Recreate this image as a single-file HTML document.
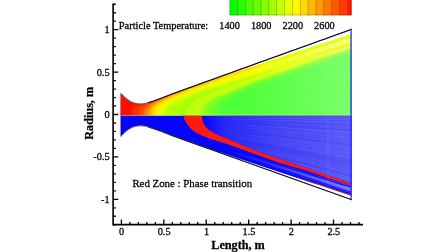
<!DOCTYPE html>
<html><head><meta charset="utf-8"><title>Particle Temperature</title>
<style>html,body{margin:0;padding:0;background:#fff;overflow:hidden;}svg{display:block;}text{font-family:"Liberation Serif","DejaVu Serif",serif;fill:#000;stroke:#000;stroke-width:0.26px;}</style>
</head><body>
<svg width="448" height="252" viewBox="0 0 448 252">
<defs>
<filter id="b2" x="-10%" y="-10%" width="120%" height="120%"><feGaussianBlur stdDeviation="1.6"/></filter>
<filter id="b1" x="-10%" y="-10%" width="120%" height="120%"><feGaussianBlur stdDeviation="0.9"/></filter>
<filter id="b05" x="-10%" y="-10%" width="120%" height="120%"><feGaussianBlur stdDeviation="0.5"/></filter>
<clipPath id="cu"><path d="M120.9,93.6 L121.3,94.0 L121.9,94.6 L122.5,95.2 L123.2,95.9 L124.0,96.7 L124.8,97.4 L125.5,98.1 L126.2,98.7 L126.8,99.2 L127.5,99.7 L128.1,100.2 L128.7,100.6 L129.3,101.0 L130.0,101.4 L130.6,101.8 L131.2,102.1 L131.8,102.4 L132.5,102.7 L133.1,102.9 L133.7,103.1 L134.4,103.3 L135.0,103.5 L135.7,103.7 L136.3,103.8 L136.9,103.9 L137.6,104.0 L138.2,104.1 L138.9,104.1 L139.5,104.2 L140.1,104.2 L140.8,104.2 L141.4,104.2 L142.0,104.1 L142.7,104.1 L143.3,104.0 L143.9,103.9 L144.6,103.9 L145.2,103.8 L145.9,103.6 L146.5,103.5 L147.1,103.3 L147.8,103.2 L148.4,103.0 L149.1,102.8 L149.7,102.5 L150.3,102.3 L151.0,102.1 L151.6,101.9 L152.2,101.7 L152.9,101.5 L153.5,101.3 L154.1,101.1 L154.7,100.9 L155.3,100.6 L156.0,100.4 L156.6,100.2 L157.2,100.0 L157.9,99.7 L158.5,99.5 L159.1,99.3 L159.8,99.0 L160.4,98.8 L161.1,98.5 L161.7,98.3 L162.3,98.1 L163.0,97.8 L163.6,97.6 L164.2,97.4 L164.9,97.1 L165.5,96.9 L166.2,96.6 L166.8,96.4 L167.5,96.1 L168.2,95.8 L169.0,95.5 L169.7,95.2 L170.4,94.9 L171.1,94.6 L171.6,94.4 L172.0,94.2 L175.0,93.2 L181.0,91.0 L187.0,88.9 L193.0,86.7 L199.0,84.5 L205.0,82.4 L211.0,80.2 L217.0,78.1 L223.0,76.1 L229.0,74.2 L235.0,72.2 L241.0,70.2 L247.0,68.3 L253.0,66.3 L259.0,64.3 L265.0,62.4 L271.0,60.4 L277.0,58.4 L283.0,56.4 L289.0,54.5 L295.0,52.5 L301.0,50.5 L307.0,48.6 L313.0,46.6 L319.0,44.6 L325.0,42.7 L331.0,40.7 L337.0,38.7 L343.0,36.7 L349.0,34.8 L351.6,33.9 L351.6,115.5 L120.8,115.5 Z"/></clipPath>
<clipPath id="cl"><path d="M120.9,136.2 L121.3,135.7 L121.9,135.2 L122.5,134.5 L123.2,133.8 L124.0,133.1 L124.8,132.3 L125.5,131.6 L126.2,131.0 L126.8,130.5 L127.5,130.0 L128.1,129.6 L128.7,129.1 L129.3,128.7 L130.0,128.3 L130.6,128.0 L131.2,127.6 L131.8,127.3 L132.5,127.0 L133.1,126.8 L133.7,126.6 L134.4,126.4 L135.0,126.2 L135.7,126.0 L136.3,125.9 L136.9,125.8 L137.6,125.7 L138.2,125.6 L138.9,125.6 L139.5,125.5 L140.1,125.5 L140.8,125.5 L141.4,125.5 L142.0,125.6 L142.7,125.6 L143.3,125.7 L143.9,125.7 L144.6,125.8 L145.2,125.9 L145.9,126.0 L146.5,126.2 L147.1,126.3 L147.8,126.5 L148.4,126.7 L149.1,126.9 L149.7,127.1 L150.3,127.3 L151.0,127.5 L151.6,127.8 L152.2,128.0 L152.9,128.2 L153.5,128.4 L154.1,128.6 L154.7,128.8 L155.3,129.0 L156.0,129.2 L156.6,129.4 L157.2,129.7 L157.9,129.9 L158.5,130.1 L159.1,130.4 L159.8,130.6 L160.4,130.8 L161.1,131.1 L161.7,131.3 L162.3,131.6 L163.0,131.8 L163.6,132.0 L164.2,132.2 L164.9,132.5 L165.5,132.7 L166.2,133.0 L166.8,133.2 L167.5,133.5 L168.2,133.8 L169.0,134.1 L169.7,134.4 L170.4,134.7 L171.1,134.9 L171.6,135.2 L172.0,135.3 L175.0,136.4 L181.0,138.5 L187.0,140.7 L193.0,142.8 L199.0,145.0 L205.0,147.1 L211.0,149.2 L217.0,151.3 L223.0,153.3 L229.0,155.3 L235.0,157.3 L241.0,159.3 L247.0,161.3 L253.0,163.3 L259.0,165.3 L265.0,167.2 L271.0,169.2 L277.0,171.2 L283.0,173.2 L289.0,175.2 L295.0,177.2 L301.0,179.2 L307.0,181.2 L313.0,183.2 L319.0,185.1 L325.0,187.1 L331.0,189.1 L337.0,191.1 L343.0,193.1 L349.0,195.1 L351.6,196.0 L351.6,115.5 L120.8,115.5 Z"/></clipPath>
<linearGradient id="gl" gradientUnits="userSpaceOnUse" x1="203" y1="0" x2="351" y2="0"><stop offset="0" stop-color="#3434f0" stop-opacity="0"/><stop offset="0.15" stop-color="#3232f2" stop-opacity="0.8"/><stop offset="0.5" stop-color="#4040f4" stop-opacity="1"/><stop offset="1" stop-color="#5858fa" stop-opacity="1"/></linearGradient>
<linearGradient id="gs" gradientUnits="userSpaceOnUse" x1="225" y1="0" x2="351" y2="0"><stop offset="0" stop-color="#fff" stop-opacity="0"/><stop offset="1" stop-color="#fff" stop-opacity="1"/></linearGradient>
<linearGradient id="gs2" gradientUnits="userSpaceOnUse" x1="255" y1="0" x2="330" y2="0"><stop offset="0" stop-color="#ffffd0" stop-opacity="0"/><stop offset="1" stop-color="#ffffd0" stop-opacity="1"/></linearGradient>
<linearGradient id="gw" gradientUnits="userSpaceOnUse" x1="250" y1="0" x2="351" y2="0"><stop offset="0" stop-color="#fff" stop-opacity="0"/><stop offset="1" stop-color="#fff" stop-opacity="0.24"/></linearGradient>
<linearGradient id="gr" gradientUnits="userSpaceOnUse" x1="285" y1="0" x2="330" y2="0"><stop offset="0" stop-color="#ff3020" stop-opacity="0"/><stop offset="1" stop-color="#ff3020" stop-opacity="0.75"/></linearGradient>
<linearGradient id="gb" gradientUnits="userSpaceOnUse" x1="205" y1="0" x2="290" y2="0"><stop offset="0" stop-color="rgb(190,255,12)"/><stop offset="1" stop-color="rgb(248,255,0)"/></linearGradient>
</defs>
<rect width="448" height="252" fill="#fff"/>
<rect x="229.60" y="0" width="8.15" height="15.3" fill="rgb(6, 255, 0)"/>
<rect x="237.45" y="0" width="8.15" height="15.3" fill="rgb(38, 255, 0)"/>
<rect x="245.30" y="0" width="8.15" height="15.3" fill="rgb(70, 255, 0)"/>
<rect x="253.15" y="0" width="8.15" height="15.3" fill="rgb(102, 255, 0)"/>
<rect x="261.00" y="0" width="8.15" height="15.3" fill="rgb(133, 255, 0)"/>
<rect x="268.85" y="0" width="8.15" height="15.3" fill="rgb(165, 255, 0)"/>
<rect x="276.70" y="0" width="8.15" height="15.3" fill="rgb(197, 255, 0)"/>
<rect x="284.55" y="0" width="8.15" height="15.3" fill="rgb(229, 255, 0)"/>
<rect x="292.40" y="0" width="8.15" height="15.3" fill="rgb(255, 248, 0)"/>
<rect x="300.25" y="0" width="8.15" height="15.3" fill="rgb(255, 216, 0)"/>
<rect x="308.10" y="0" width="8.15" height="15.3" fill="rgb(255, 184, 0)"/>
<rect x="315.95" y="0" width="8.15" height="15.3" fill="rgb(255, 153, 0)"/>
<rect x="323.80" y="0" width="8.15" height="15.3" fill="rgb(255, 121, 0)"/>
<rect x="331.65" y="0" width="8.15" height="15.3" fill="rgb(255, 89, 0)"/>
<rect x="339.50" y="0" width="8.15" height="15.3" fill="rgb(255, 57, 0)"/>
<rect x="347.35" y="0" width="4.35" height="15.3" fill="rgb(255, 25, 0)"/>
<rect x="237.15" y="0" width="0.6" height="15.3" fill="#000" fill-opacity="0.35"/>
<rect x="245.00" y="0" width="0.6" height="15.3" fill="#000" fill-opacity="0.35"/>
<rect x="252.85" y="0" width="0.6" height="15.3" fill="#000" fill-opacity="0.35"/>
<rect x="260.70" y="0" width="0.6" height="15.3" fill="#000" fill-opacity="0.35"/>
<rect x="268.55" y="0" width="0.6" height="15.3" fill="#000" fill-opacity="0.35"/>
<rect x="276.40" y="0" width="0.6" height="15.3" fill="#000" fill-opacity="0.35"/>
<rect x="284.25" y="0" width="0.6" height="15.3" fill="#000" fill-opacity="0.35"/>
<rect x="292.10" y="0" width="0.6" height="15.3" fill="#000" fill-opacity="0.35"/>
<rect x="299.95" y="0" width="0.6" height="15.3" fill="#000" fill-opacity="0.35"/>
<rect x="307.80" y="0" width="0.6" height="15.3" fill="#000" fill-opacity="0.35"/>
<rect x="315.65" y="0" width="0.6" height="15.3" fill="#000" fill-opacity="0.35"/>
<rect x="323.50" y="0" width="0.6" height="15.3" fill="#000" fill-opacity="0.35"/>
<rect x="331.35" y="0" width="0.6" height="15.3" fill="#000" fill-opacity="0.35"/>
<rect x="339.20" y="0" width="0.6" height="15.3" fill="#000" fill-opacity="0.35"/>
<rect x="347.05" y="0" width="0.6" height="15.3" fill="#000" fill-opacity="0.35"/>
<path d="M229.9,0 V15.0 H351.09999999999997 V0" fill="none" stroke="#000" stroke-opacity="0.35" stroke-width="0.6"/>
<g clip-path="url(#cu)">
<g filter="url(#b2)">
<rect x="100" y="10" width="280" height="125" fill="#ff0800"/>
<path d="M131.0,115.5 L131.3,114.1 L132.0,111.1 L132.5,108.9 L133.0,108.0 L133.8,106.4 L134.0,106.1 L134.5,105.9 L135.5,105.5 L136.5,105.0 L137.0,104.8 L137.8,104.8 L139.0,104.7 L140.5,104.5 L142.0,104.2 L144.0,103.7 L146.0,103.1 L148.0,102.3 L148.5,102.1 L151.0,101.2 L154.0,100.2 L157.0,99.1 L163.0,96.7 L169.0,94.3 L175.0,91.8 L181.0,89.5 L187.0,87.2 L193.0,84.9 L199.0,82.5 L205.0,80.2 L211.0,77.9 L217.0,75.5 L223.0,73.1 L229.0,70.8 L235.0,68.4 L241.0,66.0 L247.0,63.7 L253.0,61.3 L259.0,58.9 L265.0,56.4 L271.0,54.0 L277.0,51.6 L283.0,49.2 L289.0,46.7 L295.0,44.3 L301.0,41.9 L307.0,39.4 L313.0,36.9 L319.0,34.5 L325.0,32.0 L331.0,29.5 L337.0,27.0 L343.0,24.5 L349.0,22.0 L355.0,20.8 L356.0,20.8 L356.0,119.5 L131.0,119.5 Z" fill="rgb(255, 45, 0)"/>
<path d="M139.0,115.5 L139.3,114.3 L140.0,111.6 L140.5,109.7 L141.0,109.0 L141.8,107.8 L142.5,106.7 L143.5,106.2 L144.5,105.7 L145.8,104.9 L146.5,104.4 L147.0,104.3 L148.5,103.7 L150.0,103.0 L152.0,102.2 L154.0,101.2 L156.5,100.1 L159.0,98.8 L162.0,97.2 L165.0,96.0 L171.0,93.5 L177.0,91.1 L183.0,88.8 L189.0,86.5 L195.0,84.2 L201.0,81.9 L207.0,79.5 L213.0,77.2 L219.0,74.8 L225.0,72.5 L231.0,70.1 L237.0,67.7 L243.0,65.4 L249.0,63.0 L255.0,60.6 L261.0,58.2 L267.0,55.7 L273.0,53.3 L279.0,50.9 L285.0,48.5 L291.0,46.0 L297.0,43.6 L303.0,41.1 L309.0,38.6 L315.0,36.2 L321.0,33.7 L327.0,31.2 L333.0,28.7 L339.0,26.2 L345.0,23.7 L351.0,21.2 L356.0,20.8 L356.0,119.5 L139.0,119.5 Z" fill="rgb(255, 85, 0)"/>
<path d="M144.5,115.5 L144.8,114.4 L145.5,111.9 L146.0,110.0 L146.5,109.3 L147.3,108.3 L148.0,107.2 L148.5,106.5 L149.0,106.2 L150.0,105.5 L151.3,104.6 L152.5,103.7 L153.0,103.3 L154.0,102.9 L155.5,102.2 L157.5,101.2 L159.5,100.2 L162.0,98.9 L164.5,97.9 L167.5,96.6 L170.5,95.1 L172.0,94.4 L176.5,92.5 L180.0,91.1 L182.5,89.9 L188.5,87.1 L190.0,86.3 L194.5,84.6 L200.5,82.3 L206.5,80.0 L212.5,77.6 L218.5,75.3 L224.5,72.9 L230.5,70.6 L236.5,68.2 L242.5,65.8 L248.5,63.4 L254.5,61.0 L260.5,58.6 L266.5,56.2 L272.5,53.8 L278.5,51.3 L284.5,48.9 L290.5,46.4 L296.5,44.0 L302.5,41.5 L308.5,39.0 L314.5,36.5 L320.5,34.0 L326.5,31.5 L332.5,29.0 L338.5,26.5 L344.5,23.9 L350.5,21.4 L356.0,20.8 L356.0,119.5 L144.5,119.5 Z" fill="rgb(255, 145, 0)"/>
<path d="M149.5,115.5 L149.8,114.3 L150.5,111.4 L151.0,109.3 L151.5,108.6 L152.3,107.5 L153.0,106.4 L153.5,105.6 L154.0,105.3 L155.0,104.7 L156.3,103.8 L157.5,103.0 L158.0,102.6 L159.0,102.1 L160.5,101.4 L162.5,100.4 L164.5,99.3 L166.0,98.5 L167.0,98.1 L169.5,96.9 L172.5,95.5 L175.0,94.3 L175.5,94.2 L181.5,91.9 L187.5,89.5 L193.5,87.1 L197.0,85.7 L199.5,84.8 L205.5,82.4 L211.5,80.1 L217.5,77.7 L222.0,76.0 L223.5,75.2 L229.5,72.3 L235.0,69.5 L235.5,69.3 L241.5,66.9 L247.5,64.5 L253.5,62.1 L259.5,59.7 L265.5,57.3 L271.5,54.8 L277.5,52.4 L283.5,49.9 L289.5,47.4 L295.5,44.9 L301.5,42.4 L307.5,39.9 L313.5,37.4 L319.5,34.8 L325.5,32.3 L331.5,29.7 L337.5,27.1 L343.5,24.5 L349.5,21.9 L355.5,20.9 L356.0,20.8 L356.0,119.5 L149.5,119.5 Z" fill="rgb(255, 205, 0)"/>
<path d="M153.5,115.5 L153.8,114.3 L154.5,111.3 L155.0,109.2 L155.5,108.5 L156.3,107.4 L157.0,106.4 L157.5,105.6 L158.0,105.3 L159.0,104.6 L160.3,103.6 L161.5,102.7 L162.0,102.3 L163.0,101.8 L164.5,101.1 L166.5,100.0 L168.0,99.2 L168.5,98.9 L171.0,97.7 L173.5,96.4 L175.0,95.7 L176.5,95.1 L179.5,94.0 L185.5,91.7 L191.5,89.3 L197.0,87.1 L197.5,86.9 L203.5,84.8 L209.5,82.7 L215.5,80.6 L221.5,78.5 L227.5,76.3 L233.5,74.2 L239.5,72.0 L245.5,69.8 L251.5,67.6 L254.0,66.7 L257.5,65.3 L263.5,62.7 L269.5,60.1 L275.5,57.5 L281.5,54.8 L285.0,53.3 L287.5,52.1 L293.5,49.1 L299.5,46.1 L305.0,43.3 L305.5,43.1 L311.5,40.4 L317.5,37.6 L323.5,34.8 L329.5,32.0 L335.5,29.2 L341.5,26.3 L347.5,23.5 L353.5,21.3 L356.0,21.1 L356.0,119.5 L153.5,119.5 Z" fill="rgb(255, 240, 0)"/>
<path d="M157.5,115.5 L157.8,114.2 L158.5,111.2 L159.0,108.9 L159.5,108.2 L160.3,107.1 L161.0,106.1 L161.5,105.4 L162.0,105.1 L163.0,104.4 L164.3,103.4 L165.5,102.5 L166.0,102.1 L167.0,101.7 L168.5,100.9 L170.5,99.9 L172.5,98.9 L175.0,97.6 L177.5,96.7 L180.5,95.6 L183.5,94.4 L189.5,92.0 L195.5,89.6 L197.0,88.9 L201.5,87.4 L207.5,85.4 L213.5,83.4 L219.5,81.4 L225.5,79.4 L231.5,77.3 L237.5,75.3 L243.5,73.2 L249.5,71.1 L254.0,69.5 L255.5,68.9 L261.5,66.3 L267.5,63.7 L273.5,61.0 L279.5,58.3 L285.5,55.5 L290.0,53.4 L291.5,52.6 L297.5,49.4 L303.5,46.1 L309.5,42.7 L315.0,39.6 L315.5,39.3 L321.5,36.5 L327.5,33.6 L333.5,30.7 L339.5,27.7 L345.5,24.7 L351.5,21.7 L356.0,21.1 L356.0,119.5 L157.5,119.5 Z" fill="rgb(240, 255, 0)"/>
<path d="M161.5,115.5 L161.8,114.2 L162.5,111.2 L163.0,109.0 L163.5,108.4 L164.3,107.3 L165.0,106.4 L165.5,105.7 L166.0,105.4 L167.0,104.7 L168.3,103.9 L169.5,103.0 L170.0,102.7 L171.0,102.1 L172.5,101.4 L174.5,100.4 L175.0,100.1 L176.5,99.5 L179.0,98.6 L181.5,97.6 L184.5,96.3 L187.5,95.0 L193.5,92.4 L197.0,90.8 L199.5,90.1 L205.5,88.4 L211.5,86.8 L217.5,85.1 L223.5,83.5 L229.5,81.9 L230.0,81.8 L235.5,80.3 L241.5,78.7 L247.5,77.1 L253.5,75.5 L254.0,75.4 L259.5,73.8 L265.5,72.0 L271.5,70.3 L277.5,68.5 L280.0,67.8 L283.5,66.7 L289.5,65.0 L295.5,63.2 L301.5,61.5 L307.5,59.7 L313.5,57.9 L319.5,56.2 L325.5,54.4 L331.5,52.6 L337.5,50.8 L343.5,49.0 L349.5,47.3 L355.5,46.6 L356.0,46.6 L356.0,119.5 L161.5,119.5 Z" fill="rgb(205, 255, 0)"/>
<path d="M166.0,115.5 L166.3,114.3 L167.0,111.6 L167.5,109.6 L168.0,109.1 L168.8,108.2 L169.5,107.4 L170.0,106.8 L170.5,106.5 L171.5,105.9 L172.8,105.1 L174.0,104.4 L175.0,103.7 L175.5,103.5 L177.0,102.7 L179.0,101.6 L181.0,100.5 L183.5,99.1 L185.0,98.2 L186.0,97.8 L189.0,96.4 L192.0,95.0 L197.0,92.6 L198.0,92.3 L204.0,90.7 L210.0,89.1 L216.0,87.6 L222.0,86.0 L228.0,84.4 L230.0,83.9 L234.0,82.7 L240.0,80.9 L246.0,79.1 L252.0,77.3 L254.0,76.7 L258.0,75.4 L264.0,73.5 L270.0,71.6 L276.0,69.7 L280.0,68.4 L282.0,67.8 L288.0,66.0 L294.0,64.2 L300.0,62.4 L306.0,60.6 L312.0,58.8 L318.0,57.0 L324.0,55.2 L330.0,53.3 L336.0,51.5 L342.0,49.7 L348.0,47.8 L354.0,46.7 L356.0,46.6 L356.0,119.5 L166.0,119.5 Z" fill="rgb(180, 255, 0)"/>
</g>
<g filter="url(#b1)">
<path d="M181.0,119.5 L181.0,115.5 L181.0,115.1 L181.1,114.6 L181.2,113.9 L181.3,113.2 L181.5,112.5 L181.8,111.8 L182.1,111.0 L182.5,110.2 L183.0,109.3 L183.6,108.3 L184.4,107.2 L185.3,105.9 L186.3,104.5 L187.4,103.2 L188.6,102.0 L189.9,100.9 L191.4,99.8 L192.9,98.8 L194.6,97.8 L196.3,96.9 L198.2,96.0 L200.2,95.1 L202.2,94.3 L204.3,93.5 L206.4,92.7 L208.4,92.0 L210.4,91.3 L212.5,90.7 L214.5,90.1 L216.6,89.4 L218.5,88.8 L220.2,88.3 L222.0,87.8 L224.3,87.0 L227.4,86.0 L231.5,84.5 L236.4,82.8 L241.7,80.8 L247.2,78.8 L252.4,76.9 L257.4,75.1 L262.4,73.2 L267.4,71.4 L272.4,69.7 L277.4,68.0 L282.4,66.5 L287.4,65.0 L292.4,63.6 L297.4,62.2 L302.4,60.7 L307.4,59.1 L312.4,57.4 L317.3,55.7 L322.3,54.0 L327.4,52.3 L333.0,50.5 L339.0,48.5 L344.8,46.7 L349.8,45.0 L353.4,43.9 L353.4,119.5 Z" fill="rgb(138,255,8)"/>
<path d="M183.6,119.5 L183.6,115.5 L183.6,115.1 L183.7,114.6 L183.8,113.9 L183.9,113.2 L184.1,112.5 L184.4,111.8 L184.7,111.0 L185.1,110.2 L185.6,109.3 L186.2,108.3 L187.0,107.2 L187.9,105.9 L188.9,104.5 L190.0,103.2 L191.2,102.0 L192.5,100.9 L194.0,99.8 L195.5,98.8 L197.2,97.8 L198.9,96.9 L200.8,96.0 L202.8,95.1 L204.8,94.3 L206.9,93.5 L209.0,92.7 L211.0,92.0 L213.0,91.3 L215.1,90.7 L217.1,90.1 L219.2,89.4 L221.1,88.8 L222.8,88.3 L224.6,87.8 L226.9,87.0 L230.0,86.0 L234.1,84.5 L239.0,82.8 L244.3,80.8 L249.8,78.8 L255.0,76.9 L260.0,75.1 L265.0,73.2 L270.0,71.4 L275.0,69.7 L280.0,68.0 L285.0,66.5 L290.0,65.0 L295.0,63.6 L300.0,62.2 L305.0,60.7 L310.0,59.1 L315.0,57.4 L319.9,55.7 L324.9,54.0 L330.0,52.3 L335.6,50.5 L341.6,48.5 L347.4,46.7 L352.4,45.0 L356.0,43.9 L356.0,119.5 Z" fill="url(#gb)"/>
<path d="M202.0,119.5 L202.0,115.5 L202.0,115.1 L202.1,114.6 L202.1,113.9 L202.2,113.2 L202.3,112.5 L202.4,111.8 L202.5,110.9 L202.7,110.1 L202.9,109.2 L203.3,108.3 L203.8,107.3 L204.3,106.3 L205.0,105.2 L205.7,104.2 L206.5,103.2 L207.4,102.4 L208.3,101.6 L209.3,100.9 L210.4,100.1 L211.6,99.4 L212.9,98.7 L214.3,97.9 L215.8,97.2 L217.4,96.4 L219.2,95.6 L220.9,94.8 L222.6,94.1 L224.5,93.4 L226.9,92.4 L230.0,91.1 L234.1,89.4 L239.0,87.3 L244.3,85.1 L249.8,82.9 L255.0,80.8 L260.0,78.9 L265.0,77.1 L270.0,75.3 L275.0,73.6 L280.0,71.9 L285.0,70.2 L290.0,68.5 L295.0,66.9 L300.0,65.3 L305.0,63.6 L310.0,61.9 L315.0,60.2 L319.9,58.6 L324.9,56.8 L330.0,55.1 L335.6,53.2 L341.6,51.1 L347.4,49.0 L352.4,47.2 L356.0,46.0 L356.0,119.5 Z" fill="rgb(140,255,25)"/>
<path d="M206.0,119.5 L206.0,115.5 L206.0,115.1 L206.1,114.6 L206.1,113.9 L206.2,113.2 L206.3,112.5 L206.4,111.8 L206.5,110.9 L206.7,110.1 L206.9,109.2 L207.3,108.3 L207.8,107.3 L208.3,106.3 L209.0,105.2 L209.7,104.2 L210.5,103.2 L211.4,102.4 L212.3,101.6 L213.3,100.9 L214.4,100.1 L215.6,99.4 L216.9,98.7 L218.3,97.9 L219.8,97.2 L221.4,96.4 L223.2,95.6 L224.9,94.8 L226.6,94.1 L228.5,93.4 L230.9,92.4 L234.0,91.1 L238.1,89.4 L243.0,87.3 L248.3,85.1 L253.8,82.9 L259.0,80.8 L264.0,78.9 L269.0,77.1 L274.0,75.3 L279.0,73.6 L284.0,71.9 L289.0,70.2 L294.0,68.5 L299.0,66.9 L304.0,65.3 L309.0,63.6 L314.0,61.9 L319.0,60.2 L323.9,58.6 L328.9,56.8 L334.0,55.1 L339.6,53.2 L345.6,51.1 L351.4,49.0 L356.4,47.2 L360.0,46.0 L360.0,119.5 Z" fill="rgb(122,255,35)"/>
<path d="M211.0,119.5 L211.0,115.5 L211.0,115.1 L211.1,114.6 L211.1,113.9 L211.2,113.2 L211.3,112.5 L211.4,111.8 L211.5,110.9 L211.7,110.1 L211.9,109.2 L212.3,108.3 L212.8,107.3 L213.3,106.3 L214.0,105.2 L214.7,104.2 L215.5,103.2 L216.4,102.4 L217.3,101.6 L218.3,100.9 L219.4,100.1 L220.6,99.4 L221.9,98.7 L223.3,97.9 L224.8,97.2 L226.4,96.4 L228.2,95.6 L229.9,94.8 L231.6,94.1 L233.5,93.4 L235.9,92.4 L239.0,91.1 L243.1,89.4 L248.0,87.3 L253.3,85.1 L258.8,82.9 L264.0,80.8 L269.0,78.9 L274.0,77.1 L279.0,75.3 L284.0,73.6 L289.0,71.9 L294.0,70.2 L299.0,68.5 L304.0,66.9 L309.0,65.3 L314.0,63.6 L319.0,61.9 L324.0,60.2 L328.9,58.6 L333.9,56.8 L339.0,55.1 L344.6,53.2 L350.6,51.1 L356.4,49.0 L361.4,47.2 L365.0,46.0 L365.0,119.5 Z" fill="rgb(98,255,48)"/>
<path d="M218.0,119.5 L218.0,115.5 L218.0,115.1 L218.1,114.6 L218.1,113.9 L218.2,113.2 L218.3,112.5 L218.4,111.8 L218.5,110.9 L218.7,110.1 L218.9,109.2 L219.3,108.3 L219.8,107.3 L220.3,106.3 L221.0,105.2 L221.7,104.2 L222.5,103.2 L223.4,102.4 L224.3,101.6 L225.3,100.9 L226.4,100.1 L227.6,99.4 L228.9,98.7 L230.3,97.9 L231.8,97.2 L233.4,96.4 L235.2,95.6 L236.9,94.8 L238.6,94.1 L240.5,93.4 L242.9,92.4 L246.0,91.1 L250.1,89.4 L255.0,87.3 L260.3,85.1 L265.8,82.9 L271.0,80.8 L276.0,78.9 L281.0,77.1 L286.0,75.3 L291.0,73.6 L296.0,71.9 L301.0,70.2 L306.0,68.5 L311.0,66.9 L316.0,65.3 L321.0,63.6 L326.0,61.9 L331.0,60.2 L335.9,58.6 L340.9,56.8 L346.0,55.1 L351.6,53.2 L357.6,51.1 L363.4,49.0 L368.4,47.2 L372.0,46.0 L372.0,119.5 Z" fill="rgb(80,255,55)"/>
</g>
<rect x="250" y="20" width="110" height="100" fill="url(#gw)"/>
<g filter="url(#b05)">
<path d="M265.0,61.8 L272.2,59.3 L279.5,56.8 L286.8,54.2 L294.0,51.7 L301.2,49.1 L308.5,46.6 L315.8,44.0 L323.0,41.5 L330.2,38.9 L337.5,36.4 L344.8,33.9 L352.0,31.5 L352.0,36.6 L344.8,38.9 L337.5,41.3 L330.2,43.7 L323.0,46.0 L315.8,48.4 L308.5,50.8 L301.2,53.2 L294.0,55.6 L286.8,58.0 L279.5,60.4 L272.2,62.8 L265.0,65.2 Z" fill="rgb(218,255,0)" fill-opacity="0.8"/>
<path d="M255.0,69.0 L263.1,66.3 L271.2,63.7 L279.2,61.1 L287.3,58.4 L295.4,55.8 L303.5,53.2 L311.6,50.5 L319.7,47.9 L327.7,45.3 L335.8,42.6 L343.9,40.0 L352.0,37.5 L352.0,41.8 L343.9,44.2 L335.8,46.7 L327.7,49.1 L319.7,51.6 L311.6,54.1 L303.5,56.6 L295.4,59.1 L287.3,61.6 L279.2,64.1 L271.2,66.6 L263.1,69.0 L255.0,71.5 Z" fill="url(#gs2)" fill-opacity="0.42"/>
<path d="M255.0,73.8 L263.1,71.5 L271.2,69.1 L279.2,66.8 L287.3,64.4 L295.4,62.1 L303.5,59.7 L311.6,57.3 L319.7,55.0 L327.7,52.6 L335.8,50.3 L343.9,47.9 L352.0,45.7 L352.0,48.1 L343.9,50.3 L335.8,52.5 L327.7,54.8 L319.7,57.1 L311.6,59.4 L303.5,61.6 L295.4,63.9 L287.3,66.2 L279.2,68.5 L271.2,70.7 L263.1,73.0 L255.0,75.3 Z" fill="url(#gs2)" fill-opacity="0.32"/>
<path d="M275.0,60.1 L281.4,57.9 L287.8,55.7 L294.3,53.5 L300.7,51.4 L307.1,49.2 L313.5,47.0 L319.9,44.8 L326.3,42.6 L332.8,40.5 L339.2,38.3 L345.6,36.1 L352.0,34.0 L352.0,35.3 L345.6,37.3 L339.2,39.5 L332.8,41.6 L326.3,43.8 L319.9,45.9 L313.5,48.1 L307.1,50.2 L300.7,52.4 L294.3,54.5 L287.8,56.7 L281.4,58.8 L275.0,61.0 Z" fill="url(#gs2)" fill-opacity="0.25"/>
</g>
<path d="M246.6,112.1 L255.4,111.9 L264.2,111.7 L273.0,111.5 L281.8,111.3 L290.5,111.0 L299.3,110.8 L308.1,110.6 L316.9,110.4 L325.7,110.2 L334.4,110.0 L343.2,109.7 L352.0,109.5 L352.0,110.3 L343.2,110.5 L334.4,110.7 L325.7,110.9 L316.9,111.1 L308.1,111.3 L299.3,111.5 L290.5,111.6 L281.8,111.8 L273.0,112.0 L264.2,112.2 L255.4,112.4 L246.6,112.6 Z" fill="#fff" fill-opacity="0.11"/><path d="M270.9,109.3 L277.6,109.0 L284.4,108.7 L291.1,108.5 L297.9,108.2 L304.7,107.9 L311.4,107.7 L318.2,107.4 L325.0,107.1 L331.7,106.9 L338.5,106.6 L345.2,106.3 L352.0,106.1 L352.0,106.9 L345.2,107.1 L338.5,107.4 L331.7,107.6 L325.0,107.8 L318.2,108.1 L311.4,108.3 L304.7,108.6 L297.9,108.8 L291.1,109.1 L284.4,109.3 L277.6,109.5 L270.9,109.8 Z" fill="#fff" fill-opacity="0.12"/><path d="M237.1,108.9 L246.6,108.4 L256.2,107.9 L265.8,107.4 L275.4,106.9 L285.0,106.4 L294.5,105.9 L304.1,105.4 L313.7,104.9 L323.3,104.3 L332.8,103.8 L342.4,103.3 L352.0,102.8 L352.0,103.4 L342.4,103.9 L332.8,104.4 L323.3,104.9 L313.7,105.3 L304.1,105.8 L294.5,106.3 L285.0,106.8 L275.4,107.3 L265.8,107.8 L256.2,108.2 L246.6,108.7 L237.1,109.2 Z" fill="#fff" fill-opacity="0.07"/><path d="M253.3,105.9 L261.5,105.4 L269.7,104.8 L278.0,104.2 L286.2,103.7 L294.4,103.1 L302.6,102.6 L310.9,102.0 L319.1,101.4 L327.3,100.9 L335.5,100.3 L343.8,99.8 L352.0,99.2 L352.0,100.0 L343.8,100.5 L335.5,101.0 L327.3,101.6 L319.1,102.1 L310.9,102.6 L302.6,103.2 L294.4,103.7 L286.2,104.2 L278.0,104.8 L269.7,105.3 L261.5,105.8 L253.3,106.4 Z" fill="#fff" fill-opacity="0.05"/><path d="M262.1,103.1 L269.5,102.5 L277.0,101.9 L284.5,101.2 L292.0,100.6 L299.5,100.0 L307.0,99.4 L314.5,98.8 L322.0,98.1 L329.5,97.5 L337.0,96.9 L344.5,96.3 L352.0,95.7 L352.0,96.5 L344.5,97.1 L337.0,97.7 L329.5,98.3 L322.0,98.9 L314.5,99.5 L307.0,100.1 L299.5,100.7 L292.0,101.3 L284.5,101.8 L277.0,102.4 L269.5,103.0 L262.1,103.6 Z" fill="#fff" fill-opacity="0.07"/><path d="M257.4,101.4 L265.2,100.6 L273.1,99.9 L281.0,99.1 L288.9,98.3 L296.8,97.6 L304.7,96.8 L312.6,96.1 L320.5,95.3 L328.3,94.5 L336.2,93.8 L344.1,93.0 L352.0,92.3 L352.0,93.1 L344.1,93.8 L336.2,94.5 L328.3,95.3 L320.5,96.0 L312.6,96.7 L304.7,97.5 L296.8,98.2 L288.9,99.0 L281.0,99.7 L273.1,100.4 L265.2,101.2 L257.4,101.9 Z" fill="#fff" fill-opacity="0.05"/><path d="M246.3,100.6 L255.1,99.7 L264.0,98.7 L272.8,97.7 L281.6,96.7 L290.4,95.8 L299.2,94.8 L308.0,93.8 L316.8,92.8 L325.6,91.9 L334.4,90.9 L343.2,89.9 L352.0,89.0 L352.0,89.6 L343.2,90.5 L334.4,91.5 L325.6,92.4 L316.8,93.4 L308.0,94.4 L299.2,95.3 L290.4,96.3 L281.6,97.2 L272.8,98.2 L264.0,99.1 L255.1,100.1 L246.3,101.0 Z" fill="#fff" fill-opacity="0.08"/><path d="M241.3,99.2 L250.5,98.1 L259.7,96.9 L269.0,95.7 L278.2,94.6 L287.4,93.4 L296.6,92.2 L305.9,91.1 L315.1,89.9 L324.3,88.8 L333.5,87.6 L342.8,86.4 L352.0,85.3 L352.0,86.2 L342.8,87.3 L333.5,88.4 L324.3,89.5 L315.1,90.7 L305.9,91.8 L296.6,92.9 L287.4,94.0 L278.2,95.2 L269.0,96.3 L259.7,97.4 L250.5,98.6 L241.3,99.7 Z" fill="#fff" fill-opacity="0.09"/><path d="M247.3,96.6 L256.0,95.3 L264.7,94.1 L273.4,92.9 L282.2,91.7 L290.9,90.5 L299.6,89.2 L308.4,88.0 L317.1,86.8 L325.8,85.6 L334.5,84.3 L343.3,83.1 L352.0,81.9 L352.0,82.7 L343.3,83.9 L334.5,85.1 L325.8,86.3 L317.1,87.5 L308.4,88.7 L299.6,89.9 L290.9,91.0 L282.2,92.2 L273.4,93.4 L264.7,94.6 L256.0,95.8 L247.3,97.0 Z" fill="#fff" fill-opacity="0.11"/><path d="M272.5,90.8 L279.1,89.8 L285.7,88.8 L292.3,87.8 L299.0,86.8 L305.6,85.7 L312.2,84.7 L318.9,83.7 L325.5,82.7 L332.1,81.7 L338.7,80.6 L345.4,79.6 L352.0,78.7 L352.0,79.3 L345.4,80.2 L338.7,81.2 L332.1,82.2 L325.5,83.2 L318.9,84.2 L312.2,85.2 L305.6,86.3 L299.0,87.3 L292.3,88.3 L285.7,89.3 L279.1,90.3 L272.5,91.3 Z" fill="#fff" fill-opacity="0.08"/><path d="M271.1,88.5 L277.9,87.4 L284.6,86.2 L291.3,85.1 L298.1,83.9 L304.8,82.8 L311.6,81.6 L318.3,80.5 L325.0,79.3 L331.8,78.2 L338.5,77.0 L345.3,75.9 L352.0,74.8 L352.0,75.8 L345.3,76.9 L338.5,78.0 L331.8,79.1 L325.0,80.2 L318.3,81.4 L311.6,82.5 L304.8,83.6 L298.1,84.7 L291.3,85.8 L284.6,86.9 L277.9,88.1 L271.1,89.2 Z" fill="#fff" fill-opacity="0.10"/><path d="M238.7,92.2 L248.1,90.5 L257.6,88.7 L267.0,87.0 L276.5,85.3 L285.9,83.5 L295.3,81.8 L304.8,80.1 L314.2,78.3 L323.7,76.6 L333.1,74.8 L342.6,73.1 L352.0,71.4 L352.0,72.4 L342.6,74.0 L333.1,75.7 L323.7,77.4 L314.2,79.1 L304.8,80.8 L295.3,82.5 L285.9,84.2 L276.5,85.9 L267.0,87.6 L257.6,89.3 L248.1,91.0 L238.7,92.7 Z" fill="#fff" fill-opacity="0.08"/><path d="M249.5,88.3 L258.0,86.6 L266.6,84.9 L275.1,83.2 L283.6,81.5 L292.2,79.9 L300.7,78.2 L309.3,76.5 L317.8,74.8 L326.4,73.1 L334.9,71.4 L343.5,69.7 L352.0,68.1 L352.0,69.0 L343.5,70.5 L334.9,72.2 L326.4,73.9 L317.8,75.5 L309.3,77.2 L300.7,78.8 L292.2,80.5 L283.6,82.2 L275.1,83.8 L266.6,85.5 L258.0,87.1 L249.5,88.8 Z" fill="#fff" fill-opacity="0.09"/><path d="M253.8,85.6 L261.9,83.8 L270.1,82.1 L278.3,80.4 L286.5,78.6 L294.7,76.9 L302.9,75.2 L311.1,73.4 L319.3,71.7 L327.4,70.0 L335.6,68.2 L343.8,66.5 L352.0,64.9 L352.0,65.5 L343.8,67.1 L335.6,68.8 L327.4,70.5 L319.3,72.3 L311.1,74.0 L302.9,75.7 L294.7,77.4 L286.5,79.1 L278.3,80.8 L270.1,82.5 L261.9,84.2 L253.8,85.9 Z" fill="#fff" fill-opacity="0.08"/><path d="M253.3,83.6 L261.5,81.7 L269.8,79.9 L278.0,78.0 L286.2,76.2 L294.4,74.3 L302.7,72.5 L310.9,70.6 L319.1,68.7 L327.3,66.9 L335.6,65.0 L343.8,63.2 L352.0,61.4 L352.0,62.1 L343.8,63.8 L335.6,65.6 L327.3,67.5 L319.1,69.3 L310.9,71.1 L302.7,73.0 L294.4,74.8 L286.2,76.7 L278.0,78.5 L269.8,80.3 L261.5,82.2 L253.3,84.0 Z" fill="#fff" fill-opacity="0.07"/><path d="M246.3,83.1 L255.1,80.9 L263.9,78.8 L272.8,76.7 L281.6,74.6 L290.4,72.4 L299.2,70.3 L308.0,68.2 L316.8,66.1 L325.6,63.9 L334.4,61.8 L343.2,59.7 L352.0,57.6 L352.0,58.6 L343.2,60.6 L334.4,62.7 L325.6,64.8 L316.8,66.9 L308.0,69.0 L299.2,71.1 L290.4,73.2 L281.6,75.2 L272.8,77.3 L263.9,79.4 L255.1,81.5 L246.3,83.6 Z" fill="#fff" fill-opacity="0.10"/><path d="M243.2,82.1 L252.3,79.8 L261.3,77.5 L270.4,75.2 L279.5,72.9 L288.5,70.6 L297.6,68.3 L306.7,65.9 L315.7,63.6 L324.8,61.3 L333.9,59.0 L342.9,56.7 L352.0,54.5 L352.0,55.2 L342.9,57.3 L333.9,59.6 L324.8,61.9 L315.7,64.2 L306.7,66.5 L297.6,68.8 L288.5,71.0 L279.5,73.3 L270.4,75.6 L261.3,77.9 L252.3,80.2 L243.2,82.5 Z" fill="#fff" fill-opacity="0.09"/>
<rect x="186" y="114.5" width="166" height="1.0" fill="#e8ff30" fill-opacity="0.45"/>
<rect x="327.6" y="30" width="0.8" height="85.5" fill="#fff" fill-opacity="0.14"/>
</g>
<g clip-path="url(#cl)">
<rect x="118" y="115.5" width="236" height="90" fill="#0404ff"/>
<path d="M202.0,115.5 L202.0,115.5 L202.0,115.9 L202.1,116.4 L202.1,117.1 L202.2,117.8 L202.3,118.5 L202.4,119.2 L202.5,120.1 L202.7,120.9 L202.9,121.8 L203.3,122.7 L203.8,123.7 L204.3,124.7 L205.0,125.8 L205.7,126.8 L206.5,127.8 L207.4,128.6 L208.3,129.4 L209.3,130.1 L210.4,130.9 L211.6,131.6 L212.9,132.3 L214.3,133.1 L215.8,133.8 L217.4,134.6 L219.2,135.4 L220.9,136.2 L222.6,136.9 L224.5,137.6 L226.9,138.6 L230.0,139.9 L234.1,141.6 L239.0,143.7 L244.3,145.9 L249.8,148.1 L255.0,150.2 L260.0,152.1 L265.0,153.9 L270.0,155.7 L275.0,157.4 L280.0,159.1 L285.0,160.8 L290.0,162.5 L295.0,164.1 L300.0,165.7 L305.0,167.4 L310.0,169.1 L315.0,170.8 L319.9,172.4 L324.9,174.2 L330.0,175.9 L335.6,177.8 L341.6,179.9 L347.4,182.0 L352.4,183.8 L356.0,185.0 L356.0,115.5 Z" fill="url(#gl)"/>
<g filter="url(#b05)">
<path d="M225.0,150.5 L235.6,153.9 L246.2,157.4 L256.8,160.8 L267.3,164.2 L277.9,167.7 L288.5,171.1 L299.1,174.6 L309.7,178.0 L320.3,181.5 L330.8,184.9 L341.4,188.4 L352.0,191.7 L352.0,188.1 L341.4,184.9 L330.8,181.6 L320.3,178.4 L309.7,175.1 L299.1,171.8 L288.5,168.5 L277.9,165.2 L267.3,161.9 L256.8,158.6 L246.2,155.4 L235.6,152.1 L225.0,148.8 Z" fill="url(#gs)" fill-opacity="0.5"/>
<path d="M240.0,152.8 L249.3,155.7 L258.7,158.5 L268.0,161.4 L277.3,164.2 L286.7,167.1 L296.0,169.9 L305.3,172.8 L314.7,175.6 L324.0,178.5 L333.3,181.3 L342.7,184.2 L352.0,186.9 L352.0,185.8 L342.7,183.1 L333.3,180.3 L324.0,177.5 L314.7,174.7 L305.3,171.9 L296.0,169.1 L286.7,166.3 L277.3,163.5 L268.0,160.7 L258.7,157.9 L249.3,155.1 L240.0,152.3 Z" fill="url(#gs)" fill-opacity="0.28"/>
<path d="M240.0,156.4 L249.3,159.5 L258.7,162.6 L268.0,165.7 L277.3,168.8 L286.7,171.9 L296.0,175.1 L305.3,178.2 L314.7,181.3 L324.0,184.4 L333.3,187.5 L342.7,190.7 L352.0,193.6 L352.0,192.5 L342.7,189.6 L333.3,186.5 L324.0,183.5 L314.7,180.4 L305.3,177.3 L296.0,174.2 L286.7,171.2 L277.3,168.1 L268.0,165.0 L258.7,161.9 L249.3,158.9 L240.0,155.8 Z" fill="url(#gs)" fill-opacity="0.25"/>
</g>
<path d="M253.9,118.3 L262.1,118.4 L270.3,118.6 L278.5,118.8 L286.6,118.9 L294.8,119.1 L303.0,119.3 L311.1,119.4 L319.3,119.6 L327.5,119.8 L335.7,119.9 L343.8,120.1 L352.0,120.3 L352.0,119.7 L343.8,119.6 L335.7,119.4 L327.5,119.3 L319.3,119.1 L311.1,119.0 L303.0,118.8 L294.8,118.7 L286.6,118.5 L278.5,118.4 L270.3,118.2 L262.1,118.1 L253.9,118.0 Z" fill="#fff" fill-opacity="0.13"/><path d="M227.9,119.1 L238.2,119.5 L248.6,119.8 L258.9,120.2 L269.3,120.5 L279.6,120.9 L289.9,121.2 L300.3,121.5 L310.6,121.9 L321.0,122.2 L331.3,122.6 L341.7,122.9 L352.0,123.2 L352.0,122.2 L341.7,121.9 L331.3,121.7 L321.0,121.4 L310.6,121.1 L300.3,120.8 L289.9,120.5 L279.6,120.2 L269.3,119.9 L258.9,119.6 L248.6,119.3 L238.2,119.0 L227.9,118.7 Z" fill="#fff" fill-opacity="0.10"/><path d="M257.1,121.4 L265.1,121.7 L273.0,122.1 L280.9,122.4 L288.8,122.7 L296.7,123.1 L304.6,123.4 L312.5,123.7 L320.4,124.1 L328.3,124.4 L336.2,124.8 L344.1,125.1 L352.0,125.4 L352.0,124.8 L344.1,124.5 L336.2,124.2 L328.3,123.8 L320.4,123.5 L312.5,123.2 L304.6,122.9 L296.7,122.6 L288.8,122.3 L280.9,122.0 L273.0,121.6 L265.1,121.3 L257.1,121.0 Z" fill="#0000e0" fill-opacity="0.10"/><path d="M261.4,123.2 L268.9,123.6 L276.5,124.0 L284.0,124.4 L291.6,124.8 L299.1,125.2 L306.7,125.6 L314.2,126.0 L321.8,126.4 L329.3,126.8 L336.9,127.2 L344.4,127.6 L352.0,128.0 L352.0,127.3 L344.4,126.9 L336.9,126.5 L329.3,126.2 L321.8,125.8 L314.2,125.4 L306.7,125.0 L299.1,124.6 L291.6,124.3 L284.0,123.9 L276.5,123.5 L268.9,123.1 L261.4,122.7 Z" fill="#fff" fill-opacity="0.06"/><path d="M226.0,122.4 L236.5,123.1 L247.0,123.8 L257.5,124.4 L268.0,125.1 L278.5,125.8 L289.0,126.4 L299.5,127.1 L310.0,127.8 L320.5,128.4 L331.0,129.1 L341.5,129.8 L352.0,130.4 L352.0,129.8 L341.5,129.2 L331.0,128.6 L320.5,127.9 L310.0,127.3 L299.5,126.6 L289.0,126.0 L278.5,125.3 L268.0,124.7 L257.5,124.1 L247.0,123.4 L236.5,122.8 L226.0,122.1 Z" fill="#0000e0" fill-opacity="0.10"/><path d="M246.9,125.3 L255.7,125.9 L264.4,126.6 L273.2,127.2 L282.0,127.9 L290.7,128.6 L299.5,129.2 L308.2,129.9 L317.0,130.5 L325.7,131.2 L334.5,131.9 L343.2,132.5 L352.0,133.1 L352.0,132.3 L343.2,131.7 L334.5,131.1 L325.7,130.5 L317.0,129.8 L308.2,129.2 L299.5,128.6 L290.7,128.0 L282.0,127.3 L273.2,126.7 L264.4,126.1 L255.7,125.4 L246.9,124.8 Z" fill="#fff" fill-opacity="0.15"/><path d="M255.0,127.4 L263.1,128.1 L271.2,128.8 L279.3,129.5 L287.3,130.2 L295.4,130.9 L303.5,131.7 L311.6,132.4 L319.7,133.1 L327.8,133.8 L335.8,134.5 L343.9,135.2 L352.0,135.8 L352.0,134.9 L343.9,134.2 L335.8,133.6 L327.8,132.9 L319.7,132.2 L311.6,131.6 L303.5,130.9 L295.4,130.2 L287.3,129.5 L279.3,128.9 L271.2,128.2 L263.1,127.5 L255.0,126.9 Z" fill="#fff" fill-opacity="0.06"/><path d="M244.6,127.8 L253.6,128.7 L262.5,129.6 L271.5,130.4 L280.4,131.3 L289.4,132.2 L298.3,133.1 L307.3,133.9 L316.2,134.8 L325.2,135.7 L334.1,136.5 L343.1,137.4 L352.0,138.2 L352.0,137.4 L343.1,136.6 L334.1,135.8 L325.2,134.9 L316.2,134.1 L307.3,133.2 L298.3,132.4 L289.4,131.6 L280.4,130.7 L271.5,129.9 L262.5,129.1 L253.6,128.2 L244.6,127.4 Z" fill="#fff" fill-opacity="0.10"/><path d="M258.5,130.6 L266.3,131.5 L274.1,132.3 L281.9,133.1 L289.7,134.0 L297.5,134.8 L305.3,135.6 L313.0,136.5 L320.8,137.3 L328.6,138.1 L336.4,139.0 L344.2,139.8 L352.0,140.6 L352.0,139.9 L344.2,139.1 L336.4,138.3 L328.6,137.5 L320.8,136.7 L313.0,135.9 L305.3,135.1 L297.5,134.3 L289.7,133.5 L281.9,132.6 L274.1,131.8 L266.3,131.0 L258.5,130.2 Z" fill="#fff" fill-opacity="0.10"/><path d="M236.0,129.6 L245.7,130.7 L255.4,131.9 L265.0,133.0 L274.7,134.2 L284.4,135.3 L294.0,136.5 L303.7,137.6 L313.3,138.8 L323.0,139.9 L332.7,141.1 L342.3,142.2 L352.0,143.3 L352.0,142.4 L342.3,141.4 L332.7,140.3 L323.0,139.2 L313.3,138.0 L303.7,136.9 L294.0,135.8 L284.4,134.7 L274.7,133.6 L265.0,132.5 L255.4,131.4 L245.7,130.2 L236.0,129.1 Z" fill="#fff" fill-opacity="0.08"/><path d="M239.8,131.3 L249.2,132.5 L258.5,133.7 L267.9,134.9 L277.2,136.1 L286.6,137.3 L295.9,138.5 L305.3,139.7 L314.6,140.9 L324.0,142.1 L333.3,143.3 L342.7,144.5 L352.0,145.7 L352.0,145.0 L342.7,143.8 L333.3,142.7 L324.0,141.5 L314.6,140.3 L305.3,139.1 L295.9,138.0 L286.6,136.8 L277.2,135.6 L267.9,134.4 L258.5,133.2 L249.2,132.1 L239.8,130.9 Z" fill="#0000e0" fill-opacity="0.09"/><path d="M261.3,135.6 L268.8,136.6 L276.4,137.7 L283.9,138.8 L291.5,139.8 L299.1,140.9 L306.6,141.9 L314.2,143.0 L321.8,144.1 L329.3,145.1 L336.9,146.2 L344.4,147.2 L352.0,148.2 L352.0,147.5 L344.4,146.5 L336.9,145.5 L329.3,144.4 L321.8,143.4 L314.2,142.4 L306.6,141.3 L299.1,140.3 L291.5,139.3 L283.9,138.2 L276.4,137.2 L268.8,136.2 L261.3,135.1 Z" fill="#fff" fill-opacity="0.12"/><path d="M242.1,134.2 L251.2,135.5 L260.4,136.9 L269.5,138.3 L278.7,139.7 L287.9,141.0 L297.0,142.4 L306.2,143.8 L315.4,145.2 L324.5,146.6 L333.7,147.9 L342.8,149.3 L352.0,150.6 L352.0,150.0 L342.8,148.7 L333.7,147.4 L324.5,146.0 L315.4,144.7 L306.2,143.3 L297.0,142.0 L287.9,140.6 L278.7,139.3 L269.5,137.9 L260.4,136.6 L251.2,135.2 L242.1,133.9 Z" fill="#fff" fill-opacity="0.12"/><path d="M225.1,132.9 L235.6,134.6 L246.2,136.3 L256.8,138.0 L267.4,139.7 L277.9,141.4 L288.5,143.2 L299.1,144.9 L309.7,146.6 L320.3,148.3 L330.8,150.0 L341.4,151.7 L352.0,153.4 L352.0,152.5 L341.4,150.9 L330.8,149.3 L320.3,147.6 L309.7,145.9 L299.1,144.2 L288.5,142.6 L277.9,140.9 L267.4,139.2 L256.8,137.5 L246.2,135.9 L235.6,134.2 L225.1,132.5 Z" fill="#fff" fill-opacity="0.10"/><path d="M252.8,138.7 L261.1,140.1 L269.4,141.5 L277.6,142.9 L285.9,144.4 L294.2,145.8 L302.4,147.2 L310.7,148.6 L318.9,150.0 L327.2,151.4 L335.5,152.9 L343.7,154.3 L352.0,155.6 L352.0,155.1 L343.7,153.7 L335.5,152.3 L327.2,150.9 L318.9,149.5 L310.7,148.2 L302.4,146.8 L294.2,145.4 L285.9,144.0 L277.6,142.6 L269.4,141.2 L261.1,139.8 L252.8,138.4 Z" fill="#fff" fill-opacity="0.12"/><path d="M237.4,137.5 L246.9,139.3 L256.5,141.1 L266.0,142.8 L275.6,144.6 L285.1,146.3 L294.7,148.1 L304.2,149.9 L313.8,151.6 L323.3,153.4 L332.9,155.1 L342.4,156.9 L352.0,158.6 L352.0,157.6 L342.4,156.0 L332.9,154.2 L323.3,152.5 L313.8,150.8 L304.2,149.1 L294.7,147.4 L285.1,145.6 L275.6,143.9 L266.0,142.2 L256.5,140.5 L246.9,138.8 L237.4,137.0 Z" fill="#fff" fill-opacity="0.12"/><path d="M262.8,143.7 L270.2,145.1 L277.7,146.6 L285.1,148.0 L292.5,149.5 L300.0,150.9 L307.4,152.3 L314.8,153.8 L322.3,155.2 L329.7,156.7 L337.1,158.1 L344.6,159.6 L352.0,160.9 L352.0,160.1 L344.6,158.8 L337.1,157.4 L329.7,155.9 L322.3,154.5 L314.8,153.1 L307.4,151.7 L300.0,150.3 L292.5,148.9 L285.1,147.4 L277.7,146.0 L270.2,144.6 L262.8,143.2 Z" fill="#0000e0" fill-opacity="0.07"/><path d="M230.2,138.6 L240.4,140.7 L250.5,142.8 L260.7,144.9 L270.8,147.0 L281.0,149.1 L291.1,151.2 L301.3,153.2 L311.4,155.3 L321.6,157.4 L331.7,159.5 L341.9,161.6 L352.0,163.6 L352.0,162.7 L341.9,160.7 L331.7,158.6 L321.6,156.6 L311.4,154.6 L301.3,152.5 L291.1,150.5 L281.0,148.4 L270.8,146.4 L260.7,144.3 L250.5,142.3 L240.4,140.2 L230.2,138.2 Z" fill="#0000e0" fill-opacity="0.10"/><path d="M244.4,142.8 L253.4,144.7 L262.4,146.6 L271.3,148.6 L280.3,150.5 L289.3,152.4 L298.2,154.4 L307.2,156.3 L316.1,158.2 L325.1,160.1 L334.1,162.1 L343.0,164.0 L352.0,165.8 L352.0,165.2 L343.0,163.4 L334.1,161.5 L325.1,159.6 L316.1,157.6 L307.2,155.7 L298.2,153.8 L289.3,151.9 L280.3,150.0 L271.3,148.1 L262.4,146.2 L253.4,144.3 L244.4,142.4 Z" fill="#0000e0" fill-opacity="0.10"/><path d="M237.0,142.4 L246.6,144.6 L256.2,146.7 L265.8,148.9 L275.3,151.1 L284.9,153.2 L294.5,155.4 L304.1,157.6 L313.7,159.7 L323.3,161.9 L332.8,164.0 L342.4,166.2 L352.0,168.3 L352.0,167.7 L342.4,165.7 L332.8,163.5 L323.3,161.4 L313.7,159.2 L304.1,157.1 L294.5,155.0 L284.9,152.8 L275.3,150.7 L265.8,148.5 L256.2,146.4 L246.6,144.3 L237.0,142.1 Z" fill="#fff" fill-opacity="0.08"/><path d="M256.0,148.2 L264.0,150.1 L272.0,152.0 L280.0,153.9 L288.0,155.8 L296.0,157.7 L304.0,159.6 L312.0,161.5 L320.0,163.3 L328.0,165.2 L336.0,167.1 L344.0,169.0 L352.0,170.8 L352.0,170.2 L344.0,168.5 L336.0,166.6 L328.0,164.7 L320.0,162.8 L312.0,161.0 L304.0,159.1 L296.0,157.2 L288.0,155.3 L280.0,153.5 L272.0,151.6 L264.0,149.7 L256.0,147.9 Z" fill="#fff" fill-opacity="0.09"/><path d="M256.1,149.9 L264.1,151.9 L272.1,153.9 L280.1,155.9 L288.1,157.9 L296.1,159.9 L304.1,161.8 L312.1,163.8 L320.0,165.8 L328.0,167.8 L336.0,169.8 L344.0,171.8 L352.0,173.7 L352.0,172.8 L344.0,170.9 L336.0,168.9 L328.0,167.0 L320.0,165.0 L312.1,163.1 L304.1,161.1 L296.1,159.2 L288.1,157.2 L280.1,155.3 L272.1,153.3 L264.1,151.3 L256.1,149.4 Z" fill="#fff" fill-opacity="0.10"/><path d="M262.6,153.1 L270.0,155.1 L277.5,157.0 L284.9,158.9 L292.4,160.9 L299.8,162.8 L307.3,164.7 L314.7,166.7 L322.2,168.6 L329.6,170.5 L337.1,172.5 L344.5,174.4 L352.0,176.2 L352.0,175.3 L344.5,173.5 L337.1,171.6 L329.6,169.7 L322.2,167.8 L314.7,165.9 L307.3,164.0 L299.8,162.1 L292.4,160.1 L284.9,158.2 L277.5,156.3 L270.0,154.4 L262.6,152.5 Z" fill="#0000e0" fill-opacity="0.12"/><path d="M244.0,149.4 L253.0,151.9 L262.0,154.3 L271.0,156.7 L280.0,159.1 L289.0,161.5 L298.0,163.9 L307.0,166.4 L316.0,168.8 L325.0,171.2 L334.0,173.6 L343.0,176.0 L352.0,178.3 L352.0,177.8 L343.0,175.5 L334.0,173.1 L325.0,170.7 L316.0,168.3 L307.0,165.9 L298.0,163.5 L289.0,161.1 L280.0,158.7 L271.0,156.3 L262.0,153.9 L253.0,151.6 L244.0,149.2 Z" fill="#fff" fill-opacity="0.14"/><path d="M251.3,153.1 L259.7,155.4 L268.1,157.8 L276.5,160.1 L284.9,162.5 L293.3,164.9 L301.7,167.2 L310.1,169.6 L318.4,171.9 L326.8,174.3 L335.2,176.6 L343.6,179.0 L352.0,181.2 L352.0,180.3 L343.6,178.1 L335.2,175.8 L326.8,173.5 L318.4,171.1 L310.1,168.8 L301.7,166.5 L293.3,164.2 L284.9,161.8 L276.5,159.5 L268.1,157.2 L259.7,154.9 L251.3,152.5 Z" fill="#fff" fill-opacity="0.12"/>
<path d="M183.6,115.5 L183.6,115.9 L183.7,116.4 L183.8,117.1 L183.9,117.8 L184.1,118.5 L184.4,119.2 L184.7,120.0 L185.1,120.8 L185.6,121.7 L186.2,122.7 L187.0,123.8 L187.9,125.1 L188.9,126.5 L190.0,127.8 L191.2,129.0 L192.5,130.1 L194.0,131.2 L195.5,132.2 L197.2,133.2 L198.9,134.1 L200.8,135.0 L202.8,135.9 L204.8,136.7 L206.9,137.5 L209.0,138.3 L211.0,139.0 L213.0,139.7 L215.1,140.3 L217.1,140.9 L219.2,141.6 L221.1,142.2 L222.8,142.7 L224.6,143.2 L226.9,144.0 L230.0,145.0 L234.1,146.5 L239.0,148.2 L244.3,150.2 L249.8,152.2 L255.0,154.1 L260.0,155.9 L265.0,157.8 L270.0,159.6 L275.0,161.3 L280.0,163.0 L285.0,164.5 L290.0,166.0 L295.0,167.4 L300.0,168.8 L305.0,170.3 L310.0,171.9 L315.0,173.6 L319.9,175.3 L324.9,177.0 L330.0,178.7 L335.6,180.5 L341.6,182.5 L347.4,184.3 L352.4,186.0 L356.0,187.1 L356.0,185.0 L352.4,183.8 L347.4,182.0 L341.6,179.9 L335.6,177.8 L330.0,175.9 L324.9,174.2 L319.9,172.4 L315.0,170.8 L310.0,169.1 L305.0,167.4 L300.0,165.7 L295.0,164.1 L290.0,162.5 L285.0,160.8 L280.0,159.1 L275.0,157.4 L270.0,155.7 L265.0,153.9 L260.0,152.1 L255.0,150.2 L249.8,148.1 L244.3,145.9 L239.0,143.7 L234.1,141.6 L230.0,139.9 L226.9,138.6 L224.5,137.6 L222.6,136.9 L220.9,136.2 L219.2,135.4 L217.4,134.6 L215.8,133.8 L214.3,133.1 L212.9,132.3 L211.6,131.6 L210.4,130.9 L209.3,130.1 L208.3,129.4 L207.4,128.6 L206.5,127.8 L205.7,126.8 L205.0,125.8 L204.3,124.7 L203.8,123.7 L203.3,122.7 L202.9,121.8 L202.7,120.9 L202.5,120.1 L202.4,119.2 L202.3,118.5 L202.2,117.8 L202.1,117.1 L202.1,116.4 L202.0,115.9 L202.0,115.5 Z" fill="#ff1a12"/>
<path d="M285.0,173.4 L290.6,175.4 L296.2,177.3 L301.7,179.2 L307.3,181.2 L312.9,183.1 L318.5,185.0 L324.1,187.0 L329.7,188.9 L335.2,190.8 L340.8,192.8 L346.4,194.7 L352.0,196.5 L352.0,194.8 L346.4,193.1 L340.8,191.2 L335.2,189.3 L329.7,187.4 L324.1,185.5 L318.5,183.6 L312.9,181.7 L307.3,179.8 L301.7,177.9 L296.2,176.0 L290.6,174.1 L285.0,172.2 Z" fill="url(#gr)"/>
<rect x="327.6" y="115.5" width="0.8" height="80" fill="#fff" fill-opacity="0.14"/>
</g>
<rect x="350.4" y="30.3" width="1.3" height="169" fill="#2828ff"/>
<rect x="120.3" y="93.4" width="0.7" height="43" fill="#302020" fill-opacity="0.6"/>
<path d="M120.9,93.3 L121.3,93.7 L121.9,94.3 L122.5,94.9 L123.2,95.6 L124.0,96.4 L124.8,97.1 L125.5,97.8 L126.2,98.4 L126.8,98.9 L127.5,99.4 L128.1,99.9 L128.7,100.3 L129.3,100.7 L130.0,101.1 L130.6,101.5 L131.2,101.8 L131.8,102.1 L132.5,102.4 L133.1,102.6 L133.7,102.8 L134.4,103.0 L135.0,103.2 L135.7,103.4 L136.3,103.5 L136.9,103.6 L137.6,103.7 L138.2,103.8 L138.9,103.8 L139.5,103.9 L140.1,103.9 L140.8,103.9 L141.4,103.8 L142.0,103.8 L142.7,103.8 L143.3,103.7 L143.9,103.6 L144.6,103.6 L145.2,103.5 L145.9,103.3 L146.5,103.2 L147.1,103.0 L147.8,102.9 L148.4,102.7 L149.1,102.5 L149.7,102.2 L150.3,102.0 L151.0,101.8 L151.6,101.6 L152.2,101.4 L152.9,101.2 L153.5,101.0 L154.1,100.8 L154.7,100.6 L155.3,100.3 L156.0,100.1 L156.6,99.9 L157.2,99.7 L157.9,99.4 L158.5,99.2 L159.1,99.0 L159.8,98.7 L160.4,98.5 L161.1,98.2 L161.7,98.0 L162.3,97.8 L163.0,97.5 L163.6,97.3 L164.2,97.1 L164.9,96.8 L165.5,96.6 L166.2,96.3 L166.8,96.1 L167.5,95.8 L168.2,95.5 L169.0,95.2 L169.7,94.9 L170.4,94.6 L171.1,94.3 L171.6,94.1 L172.0,94.0 L175.0,92.9 L181.0,90.7 L187.0,88.6 L193.0,86.4 L199.0,84.2 L205.0,82.1 L211.0,79.9 L217.0,77.8 L223.0,75.6 L229.0,73.4 L235.0,71.3 L241.0,69.1 L247.0,67.0 L253.0,64.8 L259.0,62.6 L265.0,60.5 L271.0,58.3 L277.0,56.2 L283.0,54.0 L289.0,51.8 L295.0,49.7 L301.0,47.5 L307.0,45.4 L313.0,43.2 L319.0,41.0 L325.0,38.9 L331.0,36.7 L337.0,34.6 L343.0,32.4 L349.0,30.2 L351.6,29.3" fill="none" stroke="#101020" stroke-width="0.75" stroke-linejoin="round"/>
<path d="M120.9,136.5 L121.3,136.0 L121.9,135.5 L122.5,134.8 L123.2,134.1 L124.0,133.4 L124.8,132.6 L125.5,131.9 L126.2,131.3 L126.8,130.8 L127.5,130.3 L128.1,129.9 L128.7,129.4 L129.3,129.0 L130.0,128.6 L130.6,128.3 L131.2,127.9 L131.8,127.6 L132.5,127.3 L133.1,127.1 L133.7,126.9 L134.4,126.7 L135.0,126.5 L135.7,126.3 L136.3,126.2 L136.9,126.1 L137.6,126.0 L138.2,125.9 L138.9,125.9 L139.5,125.8 L140.1,125.8 L140.8,125.8 L141.4,125.8 L142.0,125.9 L142.7,125.9 L143.3,126.0 L143.9,126.0 L144.6,126.1 L145.2,126.2 L145.9,126.3 L146.5,126.5 L147.1,126.6 L147.8,126.8 L148.4,127.0 L149.1,127.2 L149.7,127.4 L150.3,127.6 L151.0,127.8 L151.6,128.1 L152.2,128.3 L152.9,128.5 L153.5,128.7 L154.1,128.9 L154.7,129.1 L155.3,129.3 L156.0,129.5 L156.6,129.7 L157.2,130.0 L157.9,130.2 L158.5,130.4 L159.1,130.7 L159.8,130.9 L160.4,131.1 L161.1,131.4 L161.7,131.6 L162.3,131.9 L163.0,132.1 L163.6,132.3 L164.2,132.5 L164.9,132.8 L165.5,133.0 L166.2,133.3 L166.8,133.5 L167.5,133.8 L168.2,134.1 L169.0,134.4 L169.7,134.7 L170.4,135.0 L171.1,135.2 L171.6,135.5 L172.0,135.6 L175.0,136.7 L181.0,138.8 L187.0,141.0 L193.0,143.1 L199.0,145.3 L205.0,147.4 L211.0,149.5 L217.0,151.7 L223.0,153.8 L229.0,156.0 L235.0,158.1 L241.0,160.2 L247.0,162.4 L253.0,164.5 L259.0,166.7 L265.0,168.8 L271.0,170.9 L277.0,173.1 L283.0,175.2 L289.0,177.4 L295.0,179.5 L301.0,181.6 L307.0,183.8 L313.0,185.9 L319.0,188.1 L325.0,190.2 L331.0,192.3 L337.0,194.5 L343.0,196.6 L349.0,198.8 L351.6,199.7" fill="none" stroke="#181810" stroke-width="0.7" stroke-linejoin="round"/>
<path d="M148.4,102.7 L149.1,102.5 L149.7,102.2 L150.3,102.0 L151.0,101.8 L151.6,101.6 L152.2,101.4 L152.9,101.2 L153.5,101.0 L154.1,100.8 L154.7,100.6 L155.3,100.3 L156.0,100.1 L156.6,99.9 L157.2,99.7 L157.9,99.4 L158.5,99.2 L159.1,99.0 L159.8,98.7 L160.4,98.5 L161.1,98.2 L161.7,98.0 L162.3,97.8 L163.0,97.5 L163.6,97.3 L164.2,97.1 L164.9,96.8 L165.5,96.6 L166.2,96.3 L166.8,96.1 L167.5,95.8 L168.2,95.5 L169.0,95.2 L169.7,94.9 L170.4,94.6 L171.1,94.3 L171.6,94.1 L172.0,94.0 L175.0,92.9 L181.0,90.7 L187.0,88.6 L193.0,86.4 L199.0,84.2 L205.0,82.1 L211.0,79.9 L217.0,77.8 L223.0,75.6 L229.0,73.4 L235.0,71.3 L241.0,69.1 L247.0,67.0 L253.0,64.8 L259.0,62.6 L265.0,60.5 L271.0,58.3 L277.0,56.2 L283.0,54.0 L289.0,51.8 L295.0,49.7 L301.0,47.5 L307.0,45.4 L313.0,43.2 L319.0,41.0 L325.0,38.9 L331.0,36.7 L337.0,34.6 L343.0,32.4 L349.0,30.2 L351.6,29.3" fill="none" stroke="#101020" stroke-width="1.05" stroke-linejoin="round" stroke-linecap="round"/>
<path d="M148.4,127.0 L149.1,127.2 L149.7,127.4 L150.3,127.6 L151.0,127.8 L151.6,128.1 L152.2,128.3 L152.9,128.5 L153.5,128.7 L154.1,128.9 L154.7,129.1 L155.3,129.3 L156.0,129.5 L156.6,129.7 L157.2,130.0 L157.9,130.2 L158.5,130.4 L159.1,130.7 L159.8,130.9 L160.4,131.1 L161.1,131.4 L161.7,131.6 L162.3,131.9 L163.0,132.1 L163.6,132.3 L164.2,132.5 L164.9,132.8 L165.5,133.0 L166.2,133.3 L166.8,133.5 L167.5,133.8 L168.2,134.1 L169.0,134.4 L169.7,134.7 L170.4,135.0 L171.1,135.2 L171.6,135.5 L172.0,135.6 L175.0,136.7 L181.0,138.8 L187.0,141.0 L193.0,143.1 L199.0,145.3 L205.0,147.4 L211.0,149.5 L217.0,151.7 L223.0,153.8 L229.0,156.0 L235.0,158.1 L241.0,160.2 L247.0,162.4 L253.0,164.5 L259.0,166.7 L265.0,168.8 L271.0,170.9 L277.0,173.1 L283.0,175.2 L289.0,177.4 L295.0,179.5 L301.0,181.6 L307.0,183.8 L313.0,185.9 L319.0,188.1 L325.0,190.2 L331.0,192.3 L337.0,194.5 L343.0,196.6 L349.0,198.8 L351.6,199.7" fill="none" stroke="#181810" stroke-width="1.0" stroke-linejoin="round" stroke-linecap="round"/>
<path d="M113.1,3.4 L113.1,224.6 L363,224.6" fill="none" stroke="#000" stroke-width="1.6" stroke-linejoin="miter"/>
<path d="M113.1,224.74 h2.7 M113.1,216.26 h2.7 M113.1,207.78 h2.7 M113.1,199.30 h5.2 M113.1,190.82 h2.7 M113.1,182.34 h2.7 M113.1,173.86 h2.7 M113.1,165.38 h2.7 M113.1,156.90 h5.2 M113.1,148.42 h2.7 M113.1,139.94 h2.7 M113.1,131.46 h2.7 M113.1,122.98 h2.7 M113.1,114.50 h5.2 M113.1,106.02 h2.7 M113.1,97.54 h2.7 M113.1,89.06 h2.7 M113.1,80.58 h2.7 M113.1,72.10 h5.2 M113.1,63.62 h2.7 M113.1,55.14 h2.7 M113.1,46.66 h2.7 M113.1,38.18 h2.7 M113.1,29.70 h5.2 M113.1,21.22 h2.7 M113.1,12.74 h2.7 M113.1,4.26 h2.7 M121.40,224.6 v-5.0 M129.88,224.6 v-2.7 M138.37,224.6 v-2.7 M146.86,224.6 v-2.7 M155.34,224.6 v-2.7 M163.82,224.6 v-5.0 M172.31,224.6 v-2.7 M180.79,224.6 v-2.7 M189.28,224.6 v-2.7 M197.76,224.6 v-2.7 M206.25,224.6 v-5.0 M214.74,224.6 v-2.7 M223.22,224.6 v-2.7 M231.70,224.6 v-2.7 M240.19,224.6 v-2.7 M248.68,224.6 v-5.0 M257.16,224.6 v-2.7 M265.64,224.6 v-2.7 M274.13,224.6 v-2.7 M282.62,224.6 v-2.7 M291.10,224.6 v-5.0 M299.59,224.6 v-2.7 M308.07,224.6 v-2.7 M316.55,224.6 v-2.7 M325.04,224.6 v-2.7 M333.52,224.6 v-5.0 M342.01,224.6 v-2.7 M350.50,224.6 v-2.7 M358.98,224.6 v-2.7" fill="none" stroke="#000" stroke-width="1.3"/>
<text x="109.6" y="33.10" font-size="10.3" text-anchor="end">1</text>
<text x="109.6" y="75.50" font-size="10.3" text-anchor="end">0.5</text>
<text x="109.6" y="117.90" font-size="10.3" text-anchor="end">0</text>
<text x="109.6" y="160.30" font-size="10.3" text-anchor="end">-0.5</text>
<text x="109.6" y="202.70" font-size="10.3" text-anchor="end">-1</text>
<text x="121.70" y="234.9" font-size="10.3" text-anchor="middle">0</text>
<text x="164.12" y="234.9" font-size="10.3" text-anchor="middle">0.5</text>
<text x="206.55" y="234.9" font-size="10.3" text-anchor="middle">1</text>
<text x="248.98" y="234.9" font-size="10.3" text-anchor="middle">1.5</text>
<text x="291.40" y="234.9" font-size="10.3" text-anchor="middle">2</text>
<text x="333.82" y="234.9" font-size="10.3" text-anchor="middle">2.5</text>
<text x="229.60" y="28.6" font-size="10.3" text-anchor="middle">1400</text>
<text x="261.20" y="28.6" font-size="10.3" text-anchor="middle">1800</text>
<text x="292.80" y="28.6" font-size="10.3" text-anchor="middle">2200</text>
<text x="324.40" y="28.6" font-size="10.3" text-anchor="middle">2600</text>
<text x="118.8" y="28.6" font-size="10.3" textLength="89.4" lengthAdjust="spacingAndGlyphs">Particle Temperature:</text>
<text x="132.4" y="187" font-size="10.8" textLength="119.7" lengthAdjust="spacingAndGlyphs">Red Zone : Phase transition</text>
<text x="238" y="248.9" font-size="12.2" font-weight="bold" text-anchor="middle">Length, m</text>
<text transform="translate(93.4,113.3) rotate(-90)" font-size="12.2" font-weight="bold" text-anchor="middle">Radius, m</text>
</svg></body></html>
